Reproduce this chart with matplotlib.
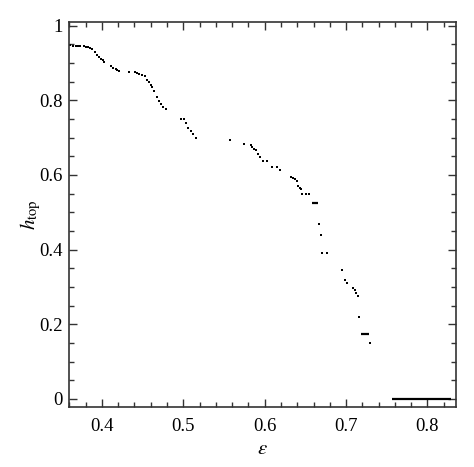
import matplotlib
matplotlib.use("Agg")
import matplotlib.pyplot as plt
from matplotlib.ticker import MultipleLocator, FuncFormatter

plt.rcParams["font.family"] = ["Liberation Serif", "DejaVu Serif"]
plt.rcParams["mathtext.fontset"] = "stix"

# isolated points (epsilon, h_top)
eps = [0.3609, 0.3645, 0.3682, 0.3703, 0.3731, 0.3780, 0.3808, 0.3833, 0.3853, 0.3874,
       0.3918, 0.3943, 0.3964, 0.3988, 0.4009, 0.4028, 0.4110, 0.4139, 0.4168, 0.4192,
       0.4212, 0.4334, 0.4404, 0.4437, 0.4462, 0.4494, 0.4527, 0.4555, 0.4579, 0.4600,
       0.4621, 0.4640, 0.4673, 0.4698, 0.4726, 0.4755, 0.4787, 0.4967, 0.5008, 0.5032,
       0.5053, 0.5090, 0.5118, 0.5151, 0.5573, 0.5747, 0.5830, 0.5848, 0.5867, 0.5889,
       0.5913, 0.5940, 0.5977, 0.6026, 0.6087, 0.6146, 0.6188, 0.6326, 0.6354, 0.6375,
       0.6391, 0.6412, 0.6436, 0.6448, 0.6464, 0.6506, 0.6546, 0.6669, 0.6689, 0.6709,
       0.6763, 0.6946, 0.6987, 0.7008, 0.7085, 0.7109, 0.7125, 0.7142, 0.7158, 0.7289]
htop = [0.9485, 0.9467, 0.9459, 0.9448, 0.9450, 0.9448, 0.9440, 0.9432, 0.9405, 0.9368,
        0.9288, 0.9219, 0.9155, 0.9112, 0.9075, 0.9040, 0.8915, 0.8880, 0.8845, 0.8819,
        0.8792, 0.8773, 0.8773, 0.8739, 0.8701, 0.8667, 0.8648, 0.8552, 0.8480, 0.8419,
        0.8347, 0.8259, 0.8080, 0.7973, 0.7901, 0.7832, 0.7779, 0.7512, 0.7501, 0.7405,
        0.7253, 0.7192, 0.7101, 0.6979, 0.6941, 0.6819, 0.6792, 0.6747, 0.6707, 0.6667,
        0.6560, 0.6480, 0.6373, 0.6368, 0.6208, 0.6205, 0.6125, 0.5947, 0.5912, 0.5885,
        0.5840, 0.5715, 0.5661, 0.5635, 0.5501, 0.5501, 0.5501, 0.4685, 0.4392, 0.3912,
        0.3912, 0.3467, 0.3173, 0.3093, 0.2968, 0.2907, 0.2840, 0.2755, 0.2187, 0.1485]

# plateaus where many points overlap
plat_start = [0.6587, 0.7179, 0.7558]
plat_end = [0.6660, 0.7281, 0.8288]
plat_h = [0.5261, 0.1733, 0.0]

fig = plt.figure(figsize=(4.74, 4.67), dpi=100)
ax = fig.add_axes([0.1462, 0.1291, 0.8158, 0.8238])

ax.plot(eps, htop, "s", color="black", markersize=1.8, markeredgewidth=0)
ax.hlines(plat_h, plat_start, plat_end, colors="black", linewidth=1.6)

ax.set_xlim(0.36, 0.835)
ax.set_ylim(-0.021, 1.01)
ax.xaxis.set_major_locator(MultipleLocator(0.1))
ax.xaxis.set_minor_locator(MultipleLocator(0.02))
ax.yaxis.set_major_locator(MultipleLocator(0.2))
ax.yaxis.set_minor_locator(MultipleLocator(0.05))
ax.yaxis.set_major_formatter(FuncFormatter(lambda v, p: f"{v:g}" if abs(v) > 1e-9 else "0"))
ax.xaxis.set_major_formatter(FuncFormatter(lambda v, p: f"{v:.1f}"))

ax.tick_params(which="both", direction="in", top=True, right=True, colors="#333333",
               labelcolor="black", labelsize=13.5)
ax.tick_params(which="major", length=6, width=1)
ax.tick_params(axis="x", which="major", pad=8)
ax.tick_params(axis="y", which="major", pad=5)
ax.tick_params(which="minor", length=3.5, width=1)
for s in ax.spines.values():
    s.set_linewidth(1.2)
    s.set_color("#333333")

ax.set_xlabel(r"$\epsilon$", fontsize=15, labelpad=4)
ax.set_ylabel(r"$h_{\rm top}$", fontsize=15, labelpad=-3)

fig.savefig("out.png", dpi=100)
